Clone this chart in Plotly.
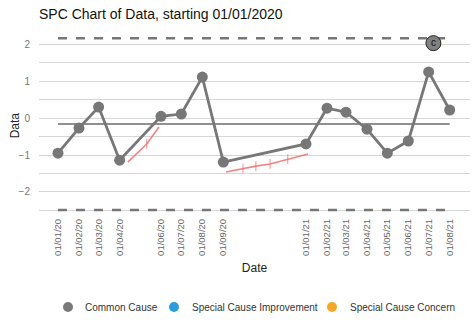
import plotly.graph_objects as go

dates = ["2020-01-01", "2020-02-01", "2020-03-01", "2020-04-01", "2020-06-01",
         "2020-07-01", "2020-08-01", "2020-09-01", "2021-01-01", "2021-02-01",
         "2021-03-01", "2021-04-01", "2021-05-01", "2021-06-01", "2021-07-01",
         "2021-08-01"]
values = [-0.95, -0.27, 0.30, -1.14, 0.05, 0.11, 1.11, -1.19, -0.70, 0.27,
          0.16, -0.30, -0.95, -0.62, 1.25, 0.22]
tick_labels = ["01/01/20", "01/02/20", "01/03/20", "01/04/20", "01/06/20",
               "01/07/20", "01/08/20", "01/09/20", "01/01/21", "01/02/21",
               "01/03/21", "01/04/21", "01/05/21", "01/06/21", "01/07/21",
               "01/08/21"]

mean_value = -0.16
ucl_value = 2.16
lcl_value = -2.49

trend1_dates = ["2020-04-13", "2020-05-11", "2020-05-29"]
trend1_values = [-1.19, -0.70, -0.24]
trend1_ticks = [0, 1, 0]

trend2_dates = ["2020-09-05", "2020-09-30", "2020-10-19", "2020-11-09",
                "2020-12-05", "2021-01-04"]
trend2_values = [-1.46, -1.36, -1.30, -1.24, -1.11, -0.97]
trend2_ticks = [0, 1, 1, 1, 1, 0]

flag_date = ["2021-07-08"]
flag_value = [2.03]
flag_text = ["c"]

legend_names = ["Common Cause", "Special Cause Improvement", "Special Cause Concern"]
legend_colors = ["#7a7a7a", "#2d9be0", "#f5a623"]

GREY = "#777777"
fig = go.Figure()

# control limits
for lim in (ucl_value, lcl_value):
    fig.add_trace(go.Scatter(x=[dates[0], dates[-1]], y=[lim, lim], mode="lines",
                             line=dict(color=GREY, width=2.5, dash="9px,9px"),
                             showlegend=False, hoverinfo="skip"))
# mean
fig.add_trace(go.Scatter(x=[dates[0], dates[-1]], y=[mean_value, mean_value], mode="lines",
                         line=dict(color="#222222", width=1.2),
                         showlegend=False, hoverinfo="skip"))

# trend lines
for td, tv, tk in ((trend1_dates, trend1_values, trend1_ticks),
                   (trend2_dates, trend2_values, trend2_ticks)):
    fig.add_trace(go.Scatter(x=td, y=tv, mode="lines+markers",
                             line=dict(color="rgba(240,110,110,0.85)", width=1.6),
                             marker=dict(symbol="line-ns", size=[7 * t for t in tk],
                                         line=dict(color="rgba(240,110,110,0.85)", width=1.3)),
                             showlegend=False, hoverinfo="skip"))

# main data
fig.add_trace(go.Scatter(x=dates, y=values, mode="lines+markers",
                         line=dict(color=GREY, width=2.8),
                         marker=dict(color=GREY, size=11),
                         showlegend=False))

# flag marker
fig.add_trace(go.Scatter(x=flag_date, y=flag_value, mode="markers+text",
                         text=flag_text, textposition="middle center",
                         textfont=dict(size=10, color="#111111", family="Liberation Sans"),
                         marker=dict(color="#808080", size=15, line=dict(color="#222222", width=1)),
                         showlegend=False, hoverinfo="skip"))

# manual legend (single row, like the reference)
legend_sym_x = [0.0673, 0.3132, 0.6798]
legend_txt_x = [0.1021, 0.3503, 0.7169]
legend_y = -0.503
for name, col, sx, tx in zip(legend_names, legend_colors, legend_sym_x, legend_txt_x):
    fig.add_shape(type="circle", xref="paper", yref="paper",
                  xsizemode="pixel", ysizemode="pixel", xanchor=sx, yanchor=legend_y,
                  x0=-5, x1=5, y0=-5, y1=5,
                  fillcolor=col, line=dict(color=col, width=0))
    fig.add_annotation(text=name, xref="paper", yref="paper", x=tx, y=legend_y,
                       xanchor="left", yanchor="middle", showarrow=False,
                       font=dict(size=10, color="#333333"))

# y-axis title
fig.add_annotation(text="Data", xref="paper", yref="paper", x=-0.056, y=0.5,
                   xanchor="center", yanchor="middle", textangle=-90, showarrow=False,
                   font=dict(size=12, color="#222222"))

fig.update_layout(
    width=474, height=324,
    margin=dict(l=39, r=4, t=35, b=108, autoexpand=False),
    paper_bgcolor="white", plot_bgcolor="white",
    showlegend=False,
    font=dict(family="Liberation Sans, Arial, sans-serif", color="#555555", size=10),
    title=dict(text="SPC Chart of Data, starting 01/01/2020", x=0, xref="paper",
               y=0.955, yref="container", yanchor="middle",
               font=dict(size=14, color="#111111")),
    xaxis=dict(range=["2019-12-04", "2021-08-31"], tickvals=dates, ticktext=tick_labels,
               tickangle=-90, showgrid=False, zeroline=False, ticks="", automargin=False,
               tickfont=dict(size=9.5, color="#666666"),
               title=dict(text="Date", font=dict(size=12, color="#222222"), standoff=8)),
    yaxis=dict(range=[-2.65, 2.25], tickvals=[-2, -1, 0, 1, 2], automargin=False,
               showgrid=True, gridcolor="#d6d6d6", gridwidth=1,
               minor=dict(tickvals=[-2.5, -1.5, -0.5, 0.5, 1.5], showgrid=True,
                          gridcolor="#d6d6d6", gridwidth=1),
               zeroline=False, ticks="", ticklabelstandoff=8,
               tickfont=dict(size=10, color="#777777")),
)

fig.write_html("out.html")
